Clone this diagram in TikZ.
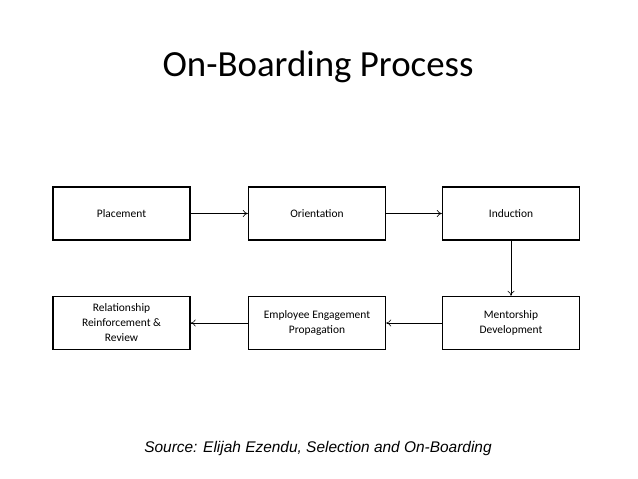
\documentclass[tikz,border=0pt]{standalone}
\usepackage{fontspec}
\setmainfont{Carlito}
\newfontfamily\arialfont{Liberation Sans}
\usetikzlibrary{arrows.meta}
\begin{document}
\begin{tikzpicture}[x=1bp,y=-1bp,
  box/.style={draw,line width=1.3bp,minimum width=137bp,minimum height=53bp,align=center,font=\fontsize{11.5}{15}\selectfont,inner sep=0},
  conn/.style={-{To[length=5bp,width=7bp]},line width=0.6bp}]
\useasboundingbox (0,0) rectangle (638,479);
\node (title) at (318,67) {\fontsize{37}{42}\selectfont On-Boarding Process};
\node[box] (p) at (121.5,213.5) {Placement};
\node[box] (o) at (317,213.5) {Orientation};
\node[box] (i) at (511,213.5) {Induction};
\node[box] (m) at (511,323) {Mentorship\\Development};
\node[box] (e) at (317,323) {Employee Engagement\\Propagation};
\node[box] (r) at (121.5,323) {Relationship\\Reinforcement \&\\Review};
\draw[conn] (p) -- (o);
\draw[conn] (o) -- (i);
\draw[conn] (i) -- (m);
\draw[conn] (m) -- (e);
\draw[conn] (e) -- (r);
\node (src) at (318,449) {\arialfont\itshape\fontsize{15.5}{18}\selectfont Source: Elijah Ezendu, Selection and On-Boarding};
\end{tikzpicture}
\end{document}
